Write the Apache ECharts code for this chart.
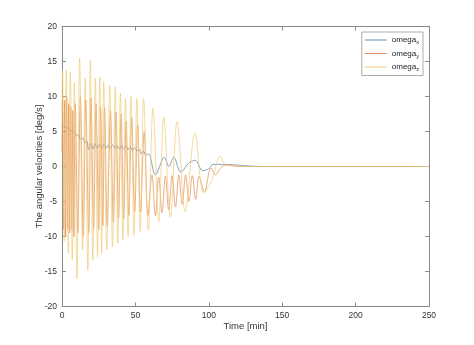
<!DOCTYPE html>
<html>
<head>
<meta charset="utf-8">
<script src="https://cdn.jsdelivr.net/npm/echarts@6/dist/echarts.min.js"></script>
<style>
  html, body { margin: 0; padding: 0; background: #fff; }
  #chart { width: 474px; height: 345px; }
</style>
</head>
<body>
<div id="chart"></div>
<script>
// Angular velocity components [time (min), deg/s]
const omegaX = [
  [0, 5.8], [2, 5.6], [4, 5.5], [6, 5.1], [8, 4.9], [10, 4.4], [11, 4.6], [12.5, 3.9],
  [14, 4.1], [15.5, 3.4], [17, 3.6], [18, 2.4], [19.5, 3.3], [21, 2.5], [22.5, 3.3],
  [24, 2.6], [25.5, 3.2], [27, 2.6], [28.5, 3.2], [30, 2.6], [31.5, 3.1], [33, 2.6],
  [34.5, 3.1], [36, 2.6], [37.5, 3.0], [39, 2.5], [40.5, 3.0], [42, 2.5], [43.5, 2.9],
  [45, 2.4], [46.5, 2.8], [48, 2.3], [49.5, 2.7], [51, 2.2], [52.5, 2.5], [54, 1.8],
  [55.5, 2.2], [57, 1.6], [59, 1.8], [63.6, -1.2], [69.8, 1.3], [72.8, 0.0], [76.1, 1.3],
  [81, -0.8], [86, 0.4], [90.5, 0.9], [96, -0.6], [100, -0.3], [103, 0.3], [110, 0.3],
  [120, 0.2], [135, 0.0], [250, 0.0]
];
const omegaY = [
  [0, 2], [0.4, 10], [1.1, -9], [1.8, 9.5], [2.5, -10], [3.2, 10], [3.9, -9], [4.6, 9],
  [5.3, -9.5], [6.0, 8.5], [6.7, -9], [7.4, 8], [8.1, -10], [9.0, 9], [10.8, -9.5],
  [12.5, 10], [14.5, -10], [16.2, 9.5], [18.2, -9.5], [19.8, 9.8], [21.5, -9], [23.2, 9],
  [25, -9], [26.3, 8.5], [27.8, -8.5], [29, 8.5], [30.8, -8.5], [33, 8], [35, -8],
  [36.8, 7.8], [38.5, -7.5], [40.3, 7.5], [42, -7.5], [43.7, 6.5], [45.5, -7], [47.5, 7],
  [49.5, -6.5], [51.5, 6], [53.5, -6.5], [56, 5], [58.5, -7], [61.3, -1.2], [63.6, -7],
  [65.9, -1.5], [68.1, -6.6], [70.4, -1.4], [72.7, -6.2], [75, -1.3], [77.3, -5.8],
  [79.6, -1.2], [81.9, -5.4], [84.2, -1.2], [86.5, -5.0], [88.8, -1.3], [91.1, -4.7],
  [93.4, -1.4], [97, -3.6], [101.5, -0.2], [104.5, -1.2], [108, -0.2], [112, 0.2],
  [120, 0.0], [250, 0.0]
];
const omegaZ = [
  [0, 8], [0.4, 13.8], [1.5, -10.7], [2.9, 13.8], [4.3, -12.4], [5.7, 13.5], [7, -13.4],
  [8.4, 12], [10.2, -16], [12, 15.5], [14, -11.9], [15.8, 12.6], [17.6, -14.8],
  [19.3, 15.2], [21, -13.4], [22.7, 12.6], [24.2, -12.9], [25.7, 12.8], [27, -12.4],
  [28.4, 12.1], [30.5, -11.9], [32.5, 11.6], [34.4, -11.5], [36.3, 11.4], [38, -10.9],
  [39.8, 10.5], [41.5, -10.5], [43.2, 9.7], [45, -10], [47, 10], [49, -9.8], [51, 9.7],
  [53.3, -9.3], [55.6, 9.7], [58.8, -9.1], [62, 8.3], [65.9, -7.9], [69.3, 7.1],
  [73.8, -7.2], [78.4, 6.4], [84, -6.5], [90.6, 4.8], [96.6, -3.8], [102, -2.0],
  [107.8, 1.5], [111, 0.3], [118, 0.1], [130, 0.0], [250, 0.0]
];

const xTicks = { min: 0, max: 250, step: 50 };
const yTicks = { min: -20, max: 20, step: 5 };
const seriesNames = ['x', 'y', 'z'];

const font = 'Liberation Sans, Arial, Helvetica, sans-serif';
const axisGray = '#8a8a8a';
const labelColor = '#333';

const chart = echarts.init(document.getElementById('chart'), null, { renderer: 'canvas' });

function boxAxis(base) {
  return Object.assign({
    axisLine: { show: true, onZero: false, lineStyle: { color: axisGray, width: 1 } },
    axisTick: { show: true, inside: true, length: 4, lineStyle: { color: axisGray } },
    splitLine: { show: false },
    nameMoveOverlap: false
  }, base);
}

const lineColors = ['#6a8fb0', '#e38f58', '#efcb78'];
const data = [omegaX, omegaY, omegaZ];

chart.setOption({
  backgroundColor: '#fff',
  animation: false,
  textStyle: { fontFamily: font },
  grid: { left: 62, right: 45, top: 26.5, bottom: 38.5, containLabel: false },
  legend: {
    orient: 'vertical',
    right: 51,
    top: 32,
    icon: 'rect',
    itemWidth: 22,
    itemHeight: 1,
    itemGap: 4,
    padding: [4, 4, 3, 3],
    backgroundColor: '#fff',
    borderColor: '#999',
    borderWidth: 0.8,
    formatter: function (name) {
      return '{a|omega}{s|' + name.slice(-1) + '}';
    },
    textStyle: {
      color: '#222',
      rich: {
        a: { fontSize: 8, fontFamily: font, color: '#222' },
        s: { fontSize: 5.5, fontFamily: font, color: '#222', padding: [5, 0, 0, 0] }
      }
    },
    data: seriesNames.map(function (s) { return 'omega_' + s; })
  },
  xAxis: [
    boxAxis({
      type: 'value', min: xTicks.min, max: xTicks.max, interval: xTicks.step,
      position: 'bottom',
      name: 'Time [min]', nameLocation: 'middle', nameGap: 15,
      nameTextStyle: { fontSize: 9.5, color: labelColor, fontFamily: font },
      axisLabel: { fontSize: 8.5, color: labelColor, margin: 5, fontFamily: font }
    }),
    boxAxis({
      type: 'value', min: xTicks.min, max: xTicks.max, interval: xTicks.step,
      position: 'top', axisLabel: { show: false }
    })
  ],
  yAxis: [
    boxAxis({
      type: 'value', min: yTicks.min, max: yTicks.max, interval: yTicks.step,
      position: 'left',
      name: 'The angular velocities [deg/s]', nameLocation: 'middle', nameGap: 18,
      nameTextStyle: { fontSize: 9.5, color: labelColor, fontFamily: font },
      axisLabel: { fontSize: 8.5, color: labelColor, margin: 5, fontFamily: font }
    }),
    boxAxis({
      type: 'value', min: yTicks.min, max: yTicks.max, interval: yTicks.step,
      position: 'right', axisLabel: { show: false }
    })
  ],
  series: data.map(function (d, i) {
    return {
      name: 'omega_' + seriesNames[i],
      type: 'line',
      data: d,
      xAxisIndex: 0,
      yAxisIndex: 0,
      smooth: 0.35,
      symbol: 'none',
      showSymbol: false,
      lineStyle: { color: lineColors[i], width: 0.9, opacity: i === 0 ? 0.9 : 0.8 },
      itemStyle: { color: lineColors[i] },
      z: 2 + i
    };
  })
});
</script>
</body>
</html>
